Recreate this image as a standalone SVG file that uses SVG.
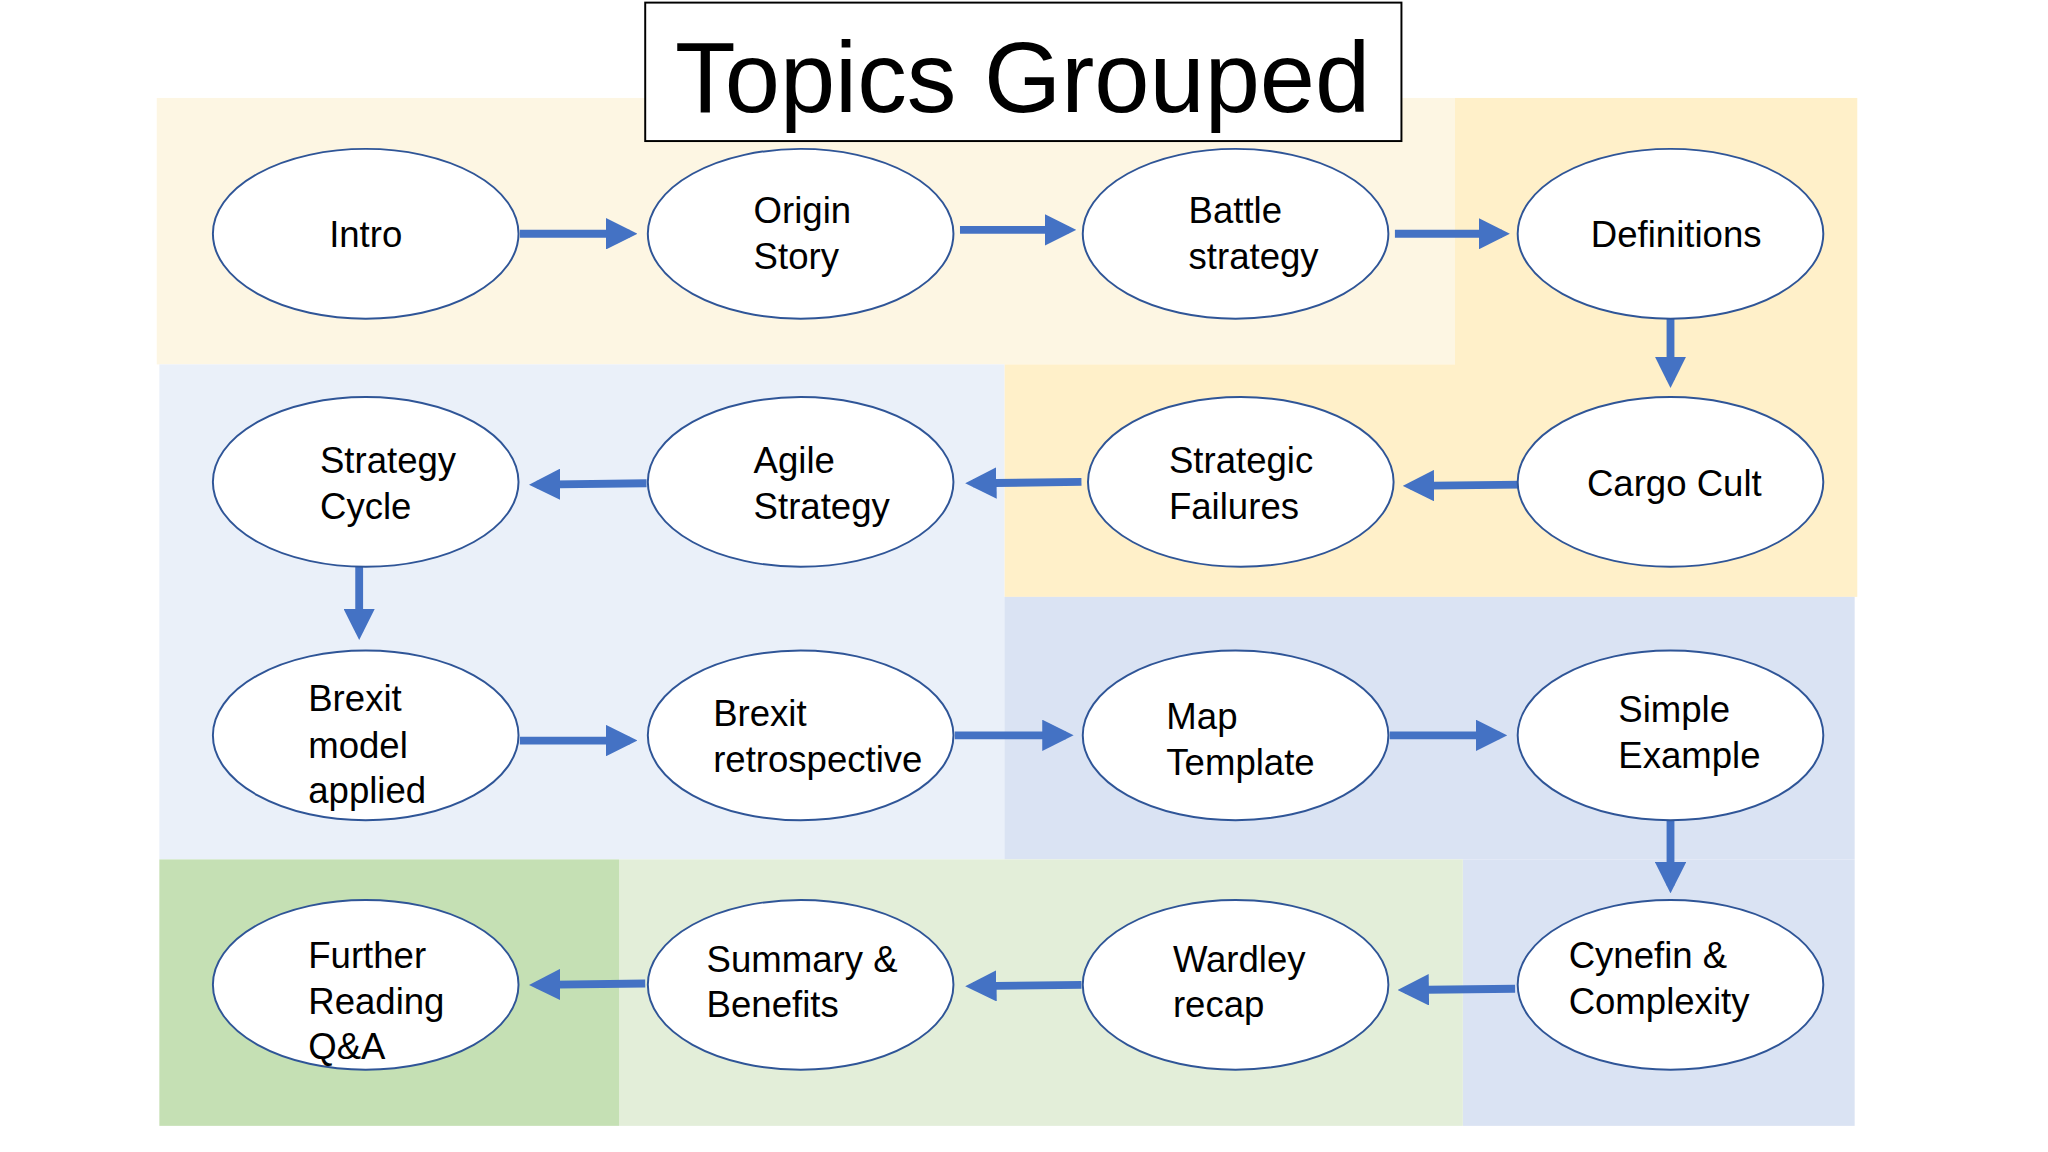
<svg xmlns="http://www.w3.org/2000/svg" width="2048" height="1152" viewBox="0 0 2048 1152">
<style>
.n ellipse{fill:#fff;stroke:#2f5597;stroke-width:1.5}
.n text{font-family:"Liberation Sans",Arial,sans-serif;font-size:28px;fill:#000}
.c line{stroke:#4472c4;stroke-width:6}
</style>
<defs><marker id="a" markerWidth="4" markerHeight="4" refX="3" refY="2" orient="auto" markerUnits="strokeWidth"><path d="M0,0L4,2L0,4Z" fill="#4472c4"/></marker></defs>
<rect width="2048" height="1152" fill="#fff"/>
<g transform="scale(1.3061)">
<g id="bg">
<rect x="120" y="75" width="994" height="204" fill="#fdf6e3"/>
<rect x="1114" y="75" width="308" height="382" fill="#fff0c9"/>
<rect x="769" y="279" width="345" height="178" fill="#fff0c9"/>
<rect x="122" y="279" width="647" height="379" fill="#eaf0f9"/>
<rect x="769" y="457" width="651" height="201" fill="#dae3f3"/>
<rect x="1120" y="658" width="300" height="204" fill="#dae3f3"/>
<rect x="474" y="658" width="646" height="204" fill="#e3eed9"/>
<rect x="122" y="658" width="352" height="204" fill="#c5e0b4"/>
</g>
<g id="title"><rect x="494" y="2" width="579" height="106" fill="#fff" stroke="#000" stroke-width="1.5"/>
<text x="783" y="86" text-anchor="middle" font-family="Liberation Sans,Arial,sans-serif" font-size="76">Topics Grouped</text></g>
<g class="c">
<line x1="398" y1="179" x2="482" y2="179" marker-end="url(#a)"/>
<line x1="735" y1="176" x2="818" y2="176" marker-end="url(#a)"/>
<line x1="1068" y1="179" x2="1150" y2="179" marker-end="url(#a)"/>
<line x1="1279" y1="241" x2="1279" y2="291" marker-end="url(#a)"/>
<line x1="1165" y1="371" x2="1080" y2="372" marker-end="url(#a)"/>
<line x1="828" y1="369" x2="745" y2="370" marker-end="url(#a)"/>
<line x1="495" y1="370" x2="411" y2="371" marker-end="url(#a)"/>
<line x1="275" y1="434" x2="275" y2="484" marker-end="url(#a)"/>
<line x1="398" y1="567" x2="482" y2="567" marker-end="url(#a)"/>
<line x1="731" y1="563" x2="816" y2="563" marker-end="url(#a)"/>
<line x1="1064" y1="563" x2="1148" y2="563" marker-end="url(#a)"/>
<line x1="1279" y1="628" x2="1279" y2="678" marker-end="url(#a)"/>
<line x1="1160" y1="757" x2="1076" y2="758" marker-end="url(#a)"/>
<line x1="828" y1="754" x2="745" y2="755" marker-end="url(#a)"/>
<line x1="494" y1="753" x2="411" y2="754" marker-end="url(#a)"/>
</g>
<g id="n1" class="n"><ellipse cx="280" cy="179" rx="117" ry="65"/><text x="252" y="189">Intro</text></g>
<g id="n2" class="n"><ellipse cx="613" cy="179" rx="117" ry="65"/><text x="577" y="171">Origin</text><text x="577" y="206">Story</text></g>
<g id="n3" class="n"><ellipse cx="946" cy="179" rx="117" ry="65"/><text x="910" y="171">Battle</text><text x="910" y="206">strategy</text></g>
<g id="n4" class="n"><ellipse cx="1279" cy="179" rx="117" ry="65"/><text x="1218" y="189">Definitions</text></g>
<g id="n5" class="n"><ellipse cx="1279" cy="369" rx="117" ry="65"/><text x="1215" y="380">Cargo Cult</text></g>
<g id="n6" class="n"><ellipse cx="950" cy="369" rx="117" ry="65"/><text x="895" y="362">Strategic</text><text x="895" y="397">Failures</text></g>
<g id="n7" class="n"><ellipse cx="613" cy="369" rx="117" ry="65"/><text x="577" y="362">Agile</text><text x="577" y="397">Strategy</text></g>
<g id="n8" class="n"><ellipse cx="280" cy="369" rx="117" ry="65"/><text x="245" y="362">Strategy</text><text x="245" y="397">Cycle</text></g>
<g id="n9" class="n"><ellipse cx="280" cy="563" rx="117" ry="65"/><text x="236" y="544">Brexit</text><text x="236" y="580">model</text><text x="236" y="615">applied</text></g>
<g id="n10" class="n"><ellipse cx="613" cy="563" rx="117" ry="65"/><text x="546" y="556">Brexit</text><text x="546" y="591">retrospective</text></g>
<g id="n11" class="n"><ellipse cx="946" cy="563" rx="117" ry="65"/><text x="893" y="558">Map</text><text x="893" y="593">Template</text></g>
<g id="n12" class="n"><ellipse cx="1279" cy="563" rx="117" ry="65"/><text x="1239" y="553">Simple</text><text x="1239" y="588">Example</text></g>
<g id="n13" class="n"><ellipse cx="1279" cy="754" rx="117" ry="65"/><text x="1201" y="741">Cynefin &amp;</text><text x="1201" y="776">Complexity</text></g>
<g id="n14" class="n"><ellipse cx="946" cy="754" rx="117" ry="65"/><text x="898" y="744">Wardley</text><text x="898" y="779">recap</text></g>
<g id="n15" class="n"><ellipse cx="613" cy="754" rx="117" ry="65"/><text x="541" y="744">Summary &amp;</text><text x="541" y="779">Benefits</text></g>
<g id="n16" class="n"><ellipse cx="280" cy="754" rx="117" ry="65"/><text x="236" y="741">Further</text><text x="236" y="776">Reading</text><text x="236" y="811">Q&amp;A</text></g>
</g>
</svg>
